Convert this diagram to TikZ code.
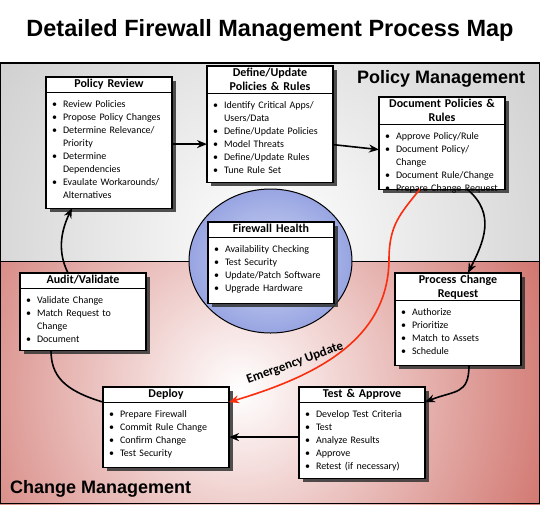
\documentclass[tikz,border=0pt]{standalone}
\usepackage{fontspec}
\setmainfont{Carlito}
\newfontfamily\headline{Liberation Sans}
\usepackage{enumitem}
\setlist[itemize]{nosep, leftmargin=14pt, labelsep=6pt, label=\textbullet}
\usetikzlibrary{positioning, shapes.geometric, arrows.meta, shadows}
\definecolor{pmgray}{RGB}{168,168,168}
\definecolor{cmred}{RGB}{185,45,35}
\definecolor{emred}{RGB}{250,45,15}
\definecolor{fwlight}{RGB}{208,213,243}
\definecolor{fwmid}{RGB}{140,155,222}
\definecolor{fwdark}{RGB}{88,106,196}
\pgfdeclareradialshading{fwglow}{\pgfpointorigin}{color(0bp)=(fwlight); color(30bp)=(fwmid); color(50bp)=(fwdark)}
\tikzset{
    boxshadow/.style={drop shadow={shadow xshift=4pt, shadow yshift=-4pt, fill=black!80, opacity=0.85}},
    head/.style={rectangle, draw=black, fill=white, line width=1.1pt, outer sep=0pt, text width=120pt, inner xsep=3pt, inner ysep=1.8pt, align=center, text height=8.5pt, text depth=3pt, font=\bfseries\fontsize{12}{14}\selectfont, boxshadow},
    twoline/.style={text depth=15pt},
    body/.style={rectangle, draw=black, fill=white, line width=1.1pt, outer sep=0pt, text width=120pt, inner xsep=3pt, inner ysep=2pt, text height=-4pt, text depth=#1, font=\fontsize{10}{13}\selectfont, boxshadow},
    zone/.style={font=\headline\bfseries\fontsize{18}{20}\selectfont, inner sep=0pt, anchor=base west},
    tag/.style={font=\bfseries\fontsize{13}{15}\selectfont, inner sep=0pt},
    flow/.style={->, >={Stealth[length=10pt, width=8pt]}, line width=1.6pt},
    link/.style={line width=1.6pt},
    emerg/.style={->, >={Stealth[length=10pt, width=8pt]}, draw=emred, line width=1.6pt},
}

\begin{document}
\begin{tikzpicture}[x=1pt, y=-1pt]
    \useasboundingbox (0,0) rectangle (540,504);
    % policy / change areas
    \begin{scope}
        \clip (0,63) rectangle (540,261);
        \shade[inner color=white, outer color=pmgray] (270,240) circle (600);
    \end{scope}
    \begin{scope}
        \clip (0,261) rectangle (540,504);
        \shade[inner color=white, outer color=cmred] (240,390) circle (500);
    \end{scope}
    \draw[line width=1.2pt] (0.6,63) rectangle (539.4,503.4);
    \draw[line width=0.8pt] (0.6,261) -- (539.4,261);

    \node [font=\headline\bfseries\fontsize{23.5}{26}\selectfont, inner sep=0pt, anchor=base] (title) at (270,36) {Detailed Firewall Management Process Map};
    \node [zone] (pm) at (357,83) {Policy Management};
    \node [zone] (cm) at (10,493) {Change Management};

    \node [ellipse, draw=black, line width=1pt, shade, shading=fwglow, minimum width=163pt, minimum height=144pt] (globe) at (270.5,261) {};

    % boxes
    \node [head, anchor=north west] (review) at (46,77) {Policy Review};
    \node [body=112pt, below=0pt of review] (reviewbody) {\raggedright
        \begin{itemize}
            \item Review Policies
            \item Propose Policy Changes
            \item Determine Relevance/\\Priority
            \item Determine\\Dependencies
            \item Evaulate Workarounds/\\Alternatives
        \end{itemize}};
    \node [head, twoline, anchor=north west] (define) at (207,66) {Define/Update\\Policies \& Rules};
    \node [body=85pt, below=0pt of define] (definebody) {\raggedright
        \begin{itemize}
            \item Identify Critical Apps/\\Users/Data
            \item Define/Update Policies
            \item Model Threats
            \item Define/Update Rules
            \item Tune Rule Set
        \end{itemize}};
    \node [head, twoline, anchor=north west] (document) at (379,97) {Document Policies \&\\Rules};
    \node [body=61pt, below=0pt of document] (documentbody) {\raggedright
        \begin{itemize}
            \item Approve Policy/Rule
            \item Document Policy/\\Change
            \item Document Rule/Change
            \item Prepare Change Request
        \end{itemize}};
    \node [head, anchor=north west] (health) at (208,222) {Firewall Health};
    \node [body=62pt, below=0pt of health] (healthbody) {\raggedright
        \begin{itemize}
            \item Availability Checking
            \item Test Security
            \item Update/Patch Software
            \item Upgrade Hardware
        \end{itemize}};
    \node [head, anchor=north west] (audit) at (20,273) {Audit/Validate};
    \node [body=58pt, below=0pt of audit] (auditbody) {\raggedright
        \begin{itemize}
            \item Validate Change
            \item Match Request to\\Change
            \item Document
        \end{itemize}};
    \node [head, twoline, anchor=north west] (process) at (395,273) {Process Change\\Request};
    \node [body=61pt, below=0pt of process] (processbody) {\raggedright
        \begin{itemize}
            \item Authorize
            \item Prioritize
            \item Match to Assets
            \item Schedule
        \end{itemize}};
    \node [head, anchor=north west] (test) at (299,387) {Test \& Approve};
    \node [body=72pt, below=0pt of test] (testbody) {\raggedright
        \begin{itemize}
            \item Develop Test Criteria
            \item Test
            \item Analyze Results
            \item Approve
            \item Retest (if necessary)
        \end{itemize}};
    \node [head, anchor=north west] (deploy) at (103,387) {Deploy};
    \node [body=61pt, below=0pt of deploy] (deploybody) {\raggedright
        \begin{itemize}
            \item Prepare Firewall
            \item Commit Rule Change
            \item Confirm Change
            \item Test Security
        \end{itemize}};

    % connectors
    \draw[flow] ([yshift=6pt]reviewbody.east) -- ([yshift=6pt]reviewbody.east -| definebody.west);
    \draw[flow] ([yshift=-7pt]definebody.east) -- ([yshift=7pt]documentbody.west);
    \draw[flow] ([xshift=25pt]documentbody.south) .. controls +(30,25) and +(15,-30) .. ([xshift=10pt]process.north);
    \draw[flow] ([xshift=11pt]processbody.south) .. controls +(0,30) and +(30,-12) .. (test.south east);
    \draw[flow] ([yshift=3pt]testbody.west) -- ([yshift=3pt]testbody.west -| deploybody.east);
    \draw[link] (deploy.south west) .. controls +(-40,-12) and +(0,25) .. ([xshift=-32pt]auditbody.south);
    \draw[flow] ([xshift=-15pt]audit.north) .. controls +(-10,-20) and +(-12,25) .. ([xshift=-37pt]reviewbody.south);
    \coordinate (bend) at (389,260);
    \draw[emerg] ([xshift=-22pt]documentbody.south) .. controls +(-20,25) and +(0,-35) .. (bend) .. controls +(-1,80) and +(87,-26) .. (deploy.south east);
    \node [tag, rotate=20] (emergency) at (295,363) {Emergency Update};
\end{tikzpicture}
\end{document}
